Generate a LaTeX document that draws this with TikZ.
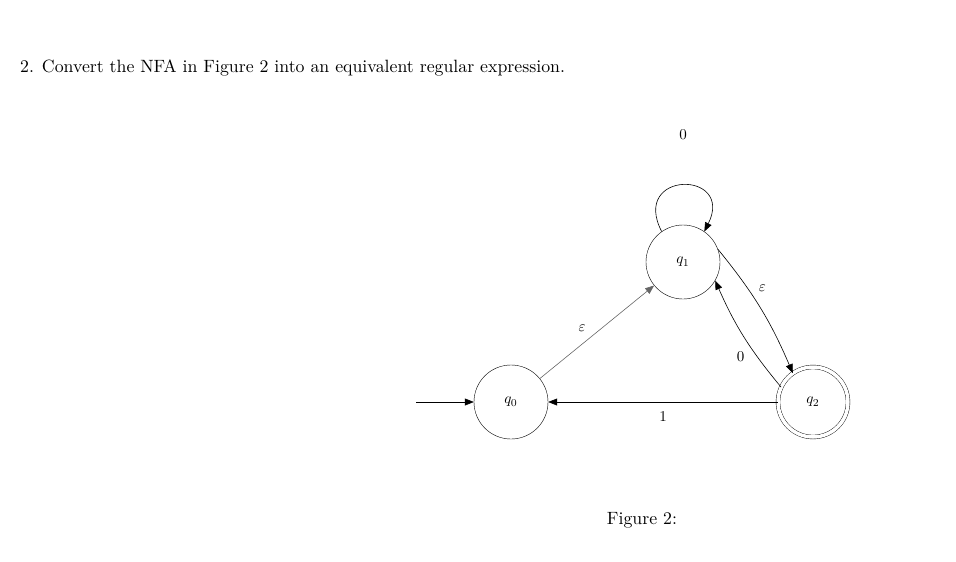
\documentclass[tikz,border=0pt]{standalone}
\usepackage{fontspec}
\usetikzlibrary{arrows.meta}
\newcommand{\bigtxt}[1]{\scalebox{1.78}{#1}}
\newcommand{\labtxt}[1]{\scalebox{1.5}{#1}}
\begin{document}
\begin{tikzpicture}[x=1pt,y=-1pt,
  st/.style={circle,draw,minimum size=74pt,inner sep=0pt},
  acc/.style={st,double,double distance=3.5pt,minimum size=70pt},
  edge/.style={-{Triangle[length=9pt,width=7pt]},semithick}]
\useasboundingbox (0,0) rectangle (956,562);
\node[anchor=base west,inner sep=0pt] (title) at (20,72) {\bigtxt{2. Convert the NFA in Figure 2 into an equivalent regular expression.}};
\node[st] (q0) at (511,402) {\labtxt{$q_0$}};
\node[st] (q1) at (683,262) {\labtxt{$q_1$}};
\node[acc] (q2) at (813,402) {\labtxt{$q_2$}};
\coordinate (s) at (416,402);
\draw[edge] (s) -- (q0);
\draw[edge,gray!80!black] (q0) -- node[black,pos=0.45,above left=2pt] {\labtxt{$\varepsilon$}} (q1);
\draw[edge] (q1.125) .. controls (630,170) and (735,170) .. (q1.55);
\node (l0) at (683,135) {\labtxt{0}};
\draw[edge] (q1.20) to[bend left=8] node[above right=2pt,pos=0.4] {\labtxt{$\varepsilon$}} (q2.125);
\draw[edge] (q2.155) to[bend left=8] node[below left=2pt,pos=0.4] {\labtxt{0}} (q1.-30);
\draw[edge] (q2.west) -- node[below=6pt] {\labtxt{1}} (q0.east);
\node (cap) at (642,520) {\bigtxt{Figure 2:}};
\end{tikzpicture}
\end{document}
